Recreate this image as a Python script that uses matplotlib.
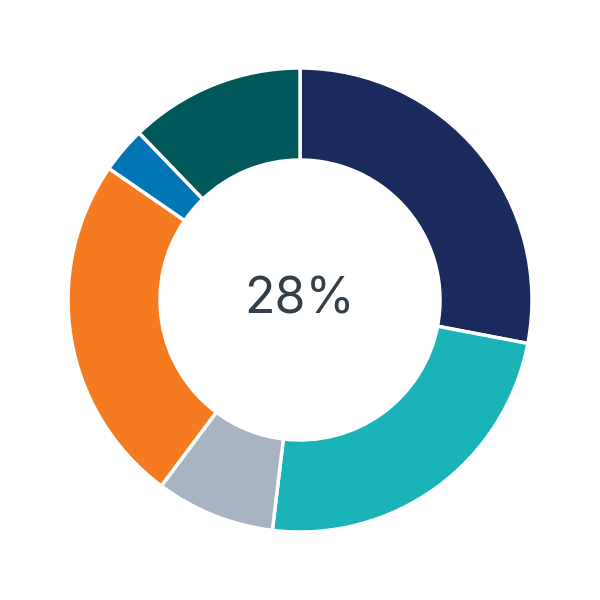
import matplotlib
matplotlib.use("Agg")
import matplotlib.pyplot as plt

labels = ["Navy", "Teal", "Gray", "Orange", "Blue", "Green"]
values = [28, 23.9, 8.3, 24.4, 3.2, 12.2]
colors = ["#1B2A5C", "#1AB4B8", "#A8B4C2", "#F47B20", "#0076B6", "#01585A"]
center_label = "28%"

fig = plt.figure(figsize=(6, 6), dpi=100)
ax = fig.add_axes([0, 0, 1, 1])
ax.pie(values, colors=colors, startangle=90, counterclock=False, radius=1,
       wedgeprops=dict(width=1 - 140/232, edgecolor="white", linewidth=2.5))
lim = 300/232
ax.set_xlim(-lim, lim)
ax.set_ylim(-lim, lim)
ax.set_aspect("equal")
ax.axis("off")
ax.text(0, 0, center_label, ha="center", va="center", fontsize=36,
        color="#333E48", family=["Inter", "DejaVu Sans"], fontweight="normal")
fig.savefig("out.png", dpi=100)
